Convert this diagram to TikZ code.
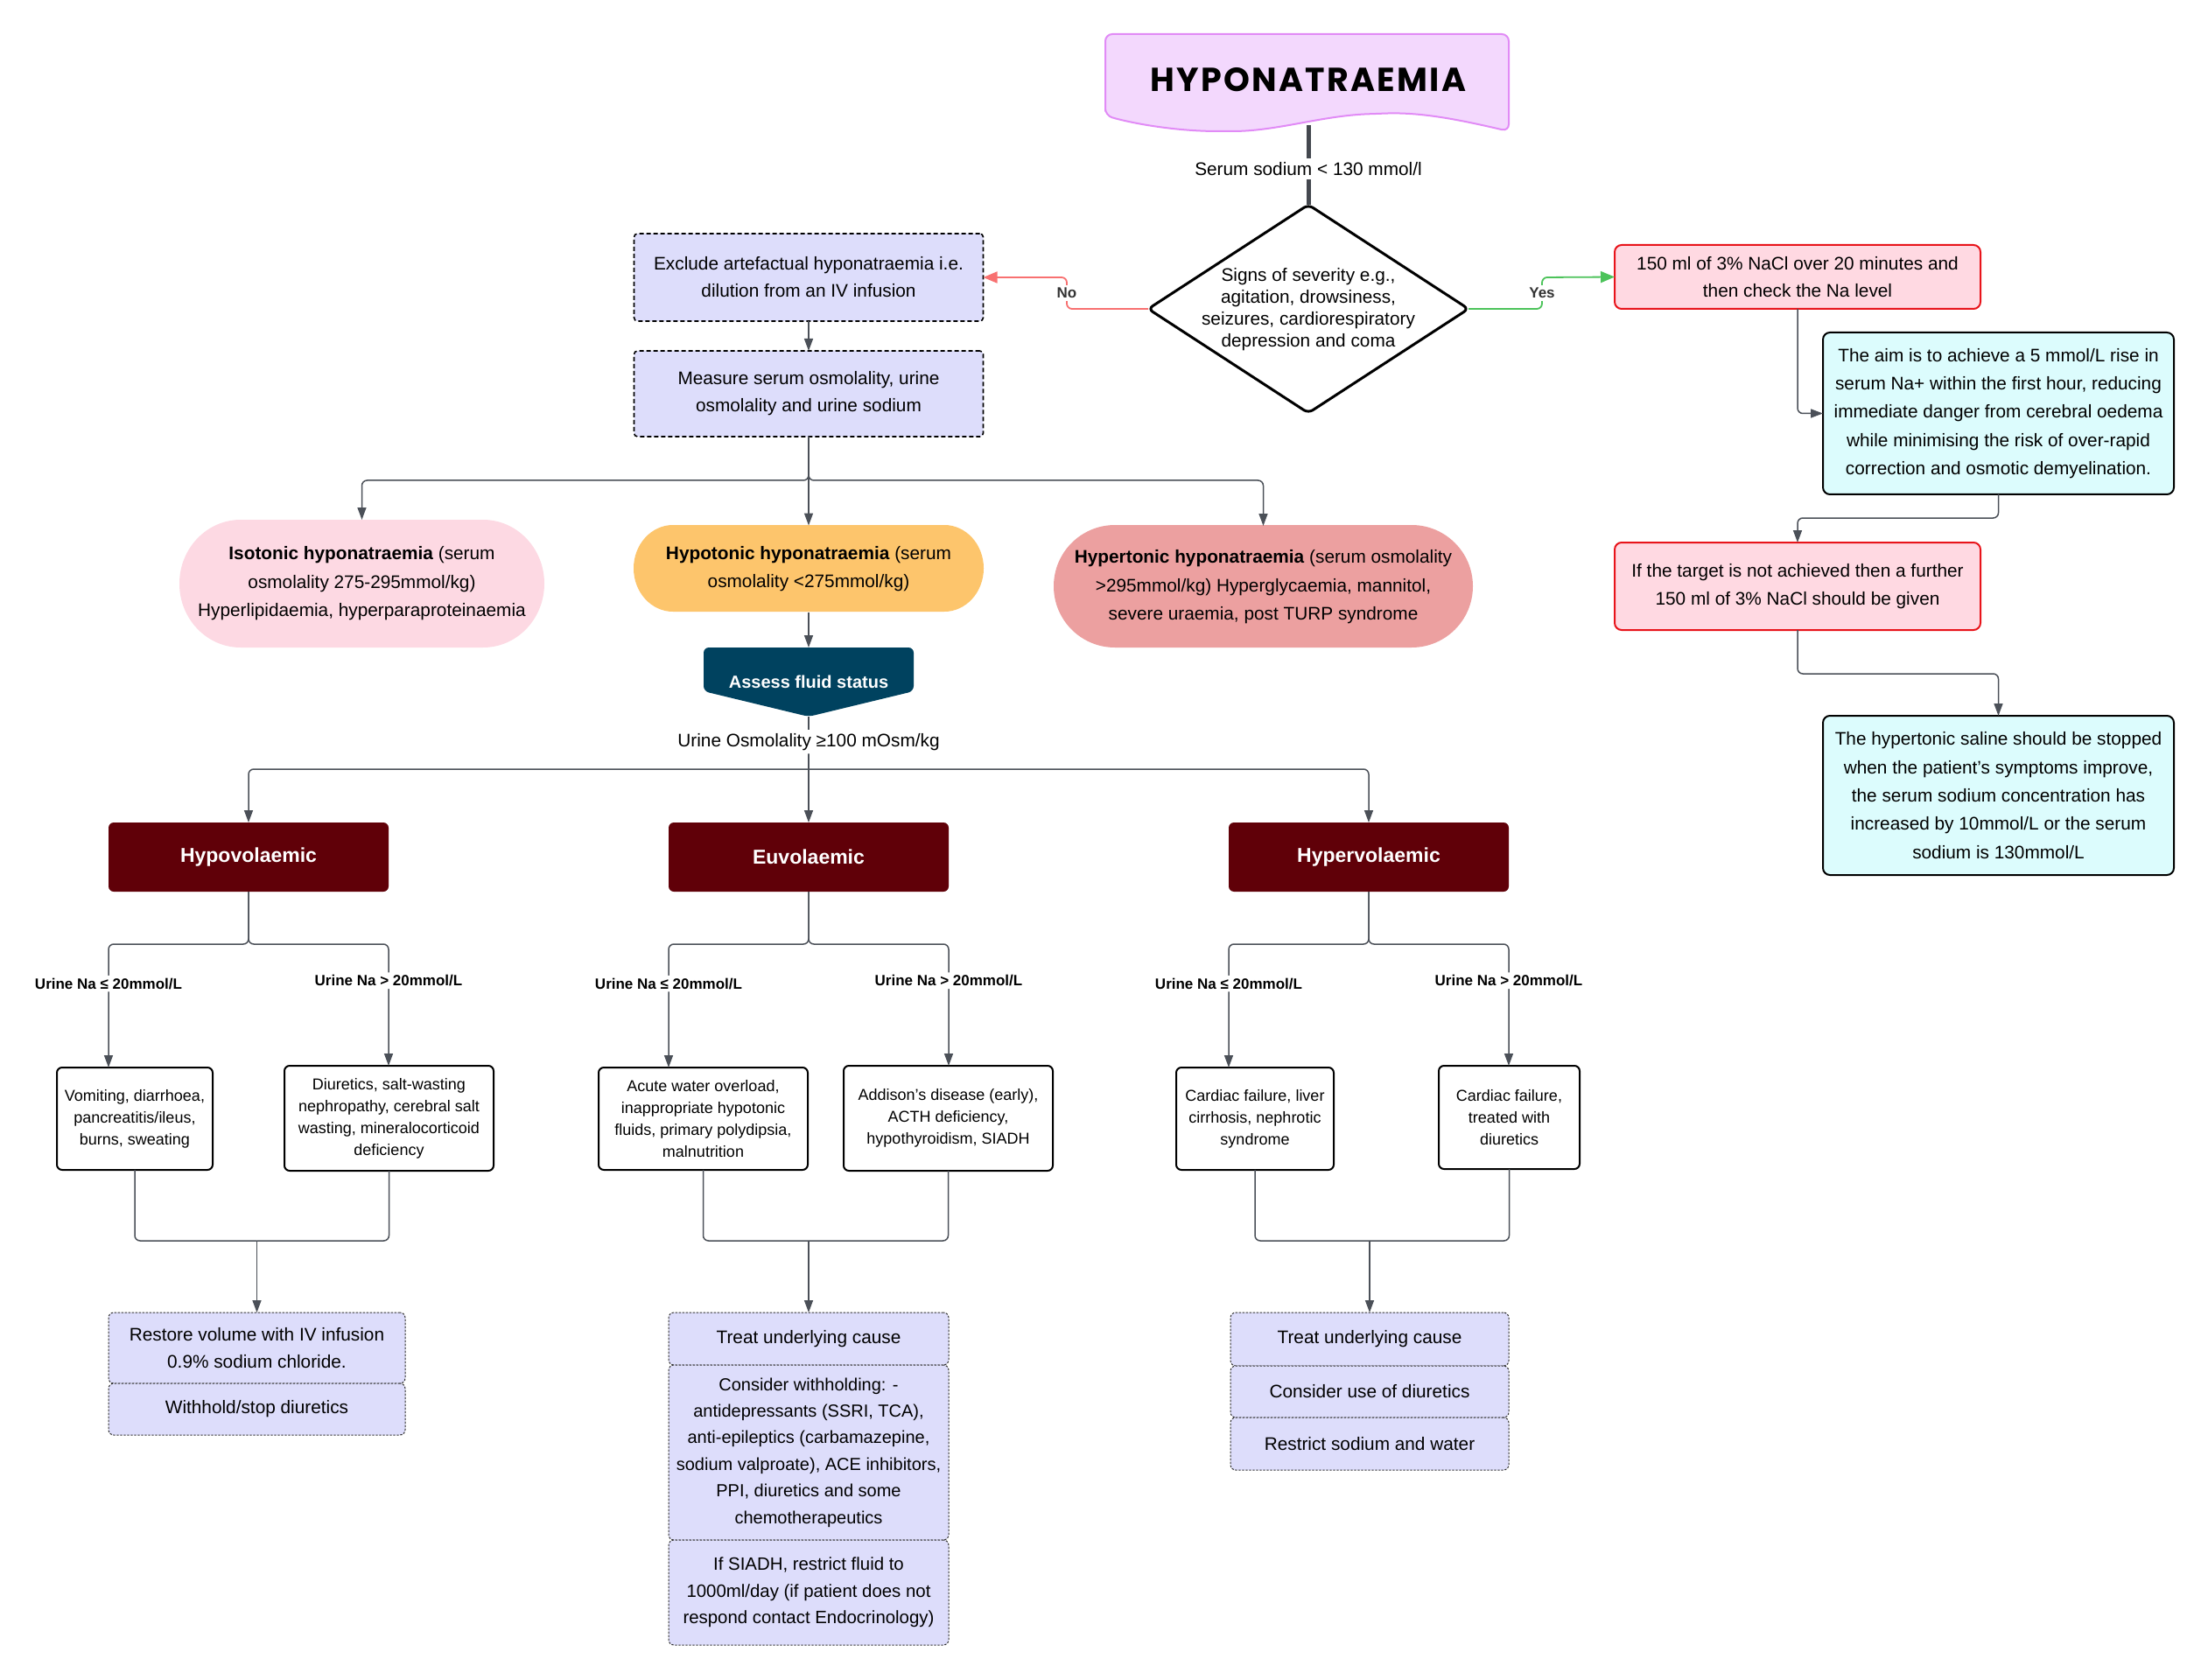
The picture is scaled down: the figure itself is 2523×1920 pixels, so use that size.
\documentclass[tikz,border=0pt]{standalone}
\usepackage{fontspec}
\setmainfont{Liberation Sans}
\newfontfamily\titlefont{Poppins}[LetterSpace=6]
\usetikzlibrary{arrows.meta,shapes.geometric}
\definecolor{lav}{HTML}{DDDDFB}
\definecolor{lncol}{HTML}{4B5058}
\definecolor{redb}{HTML}{E8141B}
\definecolor{pinkf}{HTML}{FFD9E2}
\definecolor{cyanf}{HTML}{DCFCFD}
\definecolor{maroonf}{HTML}{600008}
\definecolor{ctealf}{HTML}{00425F}
\definecolor{isof}{HTML}{FDD9E3}
\definecolor{hypof}{HTML}{FDC56C}
\definecolor{hyperf}{HTML}{ECA0A0}
\definecolor{titlef}{HTML}{F3D8FD}
\definecolor{titleb}{HTML}{E18BF6}
\definecolor{nored}{HTML}{F87171}
\definecolor{yesgreen}{HTML}{4CC35A}
\newcommand\pillfill[6]{%
  \fill[#1] (#2+#6,#3) -- (#4-#6,#3)
    arc[start angle=90,end angle=-90,x radius=#6*0.5pt,y radius={(#5-#3)*0.25pt}]
    -- (#2+#6,#5)
    arc[start angle=270,end angle=90,x radius=#6*0.5pt,y radius={(#5-#3)*0.25pt}]
    -- cycle;}
\begin{document}
\begin{tikzpicture}[x=0.5pt,y=-0.5pt,
  every node/.style={inner sep=0pt, outer sep=0pt, align=center},
  fm/.style={font=\fontsize{10.4}{15.5}\selectfont},
  fp/.style={font=\fontsize{10.4}{16.2}\selectfont},
  ln/.style={draw=lncol, line width=0.75pt, rounded corners=3pt},
  arr/.style={ln, -{Triangle[length=7pt,width=5pt]}},
  lbl/.style={fill=white, inner sep=1.5pt, font=\bfseries\fontsize{8.5}{10}\selectfont},
  dashbox/.style={draw=black, line width=0.8pt, dash pattern=on 2.5pt off 1.5pt, fill=lav, rounded corners=2pt, fm},
  treat/.style={draw=black!80, line width=0.5pt, dash pattern=on 1.2pt off 0.8pt, fill=lav, rounded corners=3pt, fm},
  child/.style={draw=black, line width=1pt, rounded corners=3pt, fill=white, font=\fontsize{9}{12.5}\selectfont},
  vol/.style={fill=maroonf, rounded corners=3pt, text=white, font=\bfseries\fontsize{11.5}{14}\selectfont},
  redbox/.style={draw=redb, line width=1pt, fill=pinkf, rounded corners=4pt, fm},
  cyanbox/.style={draw=black, line width=1pt, fill=cyanf, rounded corners=4pt, fm}
]
\useasboundingbox (0,0) rectangle (2523,1920);
\fill[white] (0,0) rectangle (2523,1920);

% ---- title banner
\filldraw[fill=titlef, draw=titleb, line width=1pt, rounded corners=4pt]
  (1263,132) -- (1263,39) -- (1724,39) -- (1724,150)
  .. controls (1660,135) and (1620,128) .. (1573,130)
  .. controls (1510,132) and (1460,150) .. (1400,150)
  .. controls (1340,150) and (1290,140) .. (1263,132) -- cycle;
\node[minimum width=230.5pt, minimum height=52pt, font=\titlefont\bfseries\fontsize{19}{19}\selectfont] (title) at (1495,91) {HYPONATRAEMIA};

% ---- diamond
\node[diamond, draw=black, line width=1.5pt, fill=white, rounded corners=3pt, minimum width=183pt, minimum height=119pt] (diamond) at (1495,353) {};
\node[font=\fontsize{10.4}{12.5}\selectfont] (dtext) at (1495,354) {Signs of severity e.g.,\\agitation, drowsiness,\\seizures, cardiorespiratory\\depression and coma};

% ---- left column top boxes
\node[dashbox, minimum width=199.5pt, minimum height=50pt] (exclude) at (924,317) {Exclude artefactual hyponatraemia i.e.\\dilution from an IV infusion};
\node[dashbox, minimum width=199.5pt, minimum height=49pt] (measure) at (924,450) {Measure serum osmolality, urine\\osmolality and urine sodium};

% ---- tonicity pills
\pillfill{isof}{205}{594}{622}{740}{70}
\pillfill{hypof}{724}{600}{1124}{699}{45}
\pillfill{hyperf}{1204}{600}{1683}{740}{70}
\node[fp, minimum width=208.5pt, minimum height=73pt] (isotonic) at (413.5,667) {\textbf{Isotonic hyponatraemia} (serum\\osmolality 275-295mmol/kg)\\Hyperlipidaemia, hyperparaproteinaemia};
\node[fp, minimum width=200pt, minimum height=49.5pt] (hypotonic) at (924,650) {\textbf{Hypotonic hyponatraemia} (serum\\osmolality <275mmol/kg)};
\node[fp, minimum width=239.5pt, minimum height=70pt] (hypertonic) at (1443.5,671) {\textbf{Hypertonic hyponatraemia} (serum osmolality\\>295mmol/kg) Hyperglycaemia, mannitol,\\severe uraemia, post TURP syndrome};

% ---- assess fluid status
\fill[ctealf, rounded corners=3pt] (804,740) -- (1044,740) -- (1044,790) -- (924,819) -- (804,790) -- cycle;
\node[minimum width=120pt, minimum height=39.5pt, text=white, font=\bfseries\fontsize{10}{12}\selectfont] (assess) at (924,779.5) {Assess fluid status};

% ---- volaemic
\node[vol, minimum width=160pt, minimum height=39.5pt] (hypovol) at (284,979.5) {Hypovolaemic};
\node[vol, minimum width=160pt, minimum height=39.5pt] (euvol) at (924,979.5) {Euvolaemic};
\node[vol, minimum width=160pt, minimum height=39.5pt] (hypervol) at (1564,979.5) {Hypervolaemic};

% ---- children
\node[child, minimum width=89pt, minimum height=58.5pt] (hypoA) at (154,1278.5) {Vomiting, diarrhoea,\\pancreatitis/ileus,\\burns, sweating};
\node[child, minimum width=119.5pt, minimum height=60pt] (hypoB) at (444.5,1278) {Diuretics, salt-wasting\\nephropathy, cerebral salt\\wasting, mineralocorticoid\\deficiency};
\node[child, minimum width=119.5pt, minimum height=58.5pt] (euA) at (803.5,1278.5) {Acute water overload,\\inappropriate hypotonic\\fluids, primary polydipsia,\\malnutrition};
\node[child, minimum width=119.5pt, minimum height=60pt] (euB) at (1083.5,1278) {Addison’s disease (early),\\ACTH deficiency,\\hypothyroidism, SIADH};
\node[child, minimum width=90pt, minimum height=58.5pt] (hyperA) at (1434,1278.5) {Cardiac failure, liver\\cirrhosis, nephrotic\\syndrome};
\node[child, minimum width=80.5pt, minimum height=59pt] (hyperB) at (1724.5,1277) {Cardiac failure,\\treated with\\diuretics};

% ---- treatments
\node[treat, minimum width=169.5pt, minimum height=40.5pt] (hypoT1) at (293.5,1540.5) {Restore volume with IV infusion\\0.9\% sodium chloride.};
\node[treat, minimum width=169.5pt, minimum height=29.5pt] (hypoT2) at (293.5,1610.5) {Withhold/stop diuretics};
\node[treat, minimum width=160pt, minimum height=30pt] (euT1) at (924,1530) {Treat underlying cause};
\node[treat, minimum width=160pt, minimum height=100pt, font=\fontsize{10}{15.2}\selectfont] (euT2) at (924,1660) {Consider withholding: -\\antidepressants (SSRI, TCA),\\anti-epileptics (carbamazepine,\\sodium valproate), ACE inhibitors,\\PPI, diuretics and some\\chemotherapeutics};
\node[treat, minimum width=160pt, minimum height=60pt, font=\fontsize{10.2}{15.3}\selectfont] (euT3) at (924,1820) {If SIADH, restrict fluid to\\1000ml/day (if patient does not\\respond contact Endocrinology)};
\node[treat, minimum width=159pt, minimum height=30.5pt] (hyT1) at (1565,1530.5) {Treat underlying cause};
\node[treat, minimum width=159pt, minimum height=29.5pt] (hyT2) at (1565,1590.5) {Consider use of diuretics};
\node[treat, minimum width=159pt, minimum height=30pt] (hyT3) at (1565,1650) {Restrict sodium and water};

% ---- right column
\node[redbox, minimum width=209pt, minimum height=36.5pt] (na150) at (2054,316.5) {150 ml of 3\% NaCl over 20 minutes and\\then check the Na level};
\node[cyanbox, minimum width=200.5pt, minimum height=92.5pt, font=\fontsize{10.4}{16.2}\selectfont] (aim) at (2283.5,472.5) {The aim is to achieve a 5 mmol/L rise in\\serum Na+ within the first hour, reducing\\immediate danger from cerebral oedema\\while minimising the risk of over-rapid\\correction and osmotic demyelination.};
\node[redbox, minimum width=209pt, minimum height=50pt, font=\fontsize{10.4}{16}\selectfont] (further) at (2054,670) {If the target is not achieved then a further\\150 ml of 3\% NaCl should be given};
\node[cyanbox, minimum width=200.5pt, minimum height=91pt, font=\fontsize{10.4}{16.2}\selectfont] (stop) at (2283.5,909) {The hypertonic saline should be stopped\\when the patient’s symptoms improve,\\the serum sodium concentration has\\increased by 10mmol/L or the serum\\sodium is 130mmol/L};

% ---- connectors
\draw[draw=lncol!90!black, line width=2.5pt] (title.south) -- node[pos=0.55, fill=white, inner sep=2pt, fm] {Serum sodium < 130 mmol/l} (diamond.north);

\draw[draw=nored, line width=0.9pt, rounded corners=3pt, -{Triangle[length=8pt,width=6.5pt]}]
  (diamond.west) -- (1219,353) -- node[fill=white, inner sep=1.5pt, text=black!80, font=\bfseries\fontsize{8.5}{10}\selectfont]{No} (1219,317) -- (exclude.east);
\draw[draw=yesgreen, line width=0.9pt, rounded corners=3pt, -{Triangle[length=8pt,width=6.5pt]}]
  (diamond.east) -- (1762,353) -- node[fill=white, inner sep=1.5pt, text=black!80, font=\bfseries\fontsize{8.5}{10}\selectfont]{Yes} (1762,317) -- (na150.west);

\draw[arr] (exclude.south) -- (measure.south |- measure.north);
\draw[arr] (measure.south) -- (hypotonic.north);
\draw[arr] (measure.south) -- (924,549) -| (isotonic.north);
\draw[arr] (measure.south) -- (924,549) -| (hypertonic.north);
\draw[arr] (hypotonic.south) -- (assess.north);

\draw[ln] (assess.south) -- node[pos=0.48, fill=white, inner sep=2pt, fm] {Urine Osmolality ≥100 mOsm/kg} (924,879);
\draw[arr] (924,879) -- (euvol.north);
\draw[arr] (924,879) -| (hypovol.north);
\draw[arr] (924,879) -| (hypervol.north);

\draw[arr] (hypovol.south) -- (284,1079) -- (124,1079) -- node[lbl, pos=0.32]{Urine Na ≤ 20mmol/L} (hypovol.south west |- hypoA.north);
\draw[arr] (hypovol.south) -- (284,1079) -- (444,1079) -- node[lbl, pos=0.3]{Urine Na > 20mmol/L} (hypovol.south east |- hypoB.north);
\draw[arr] (euvol.south) -- (924,1079) -- (764,1079) -- node[lbl, pos=0.32]{Urine Na ≤ 20mmol/L} (euvol.south west |- euA.north);
\draw[arr] (euvol.south) -- (924,1079) -- (1084,1079) -- node[lbl, pos=0.3]{Urine Na > 20mmol/L} (euvol.south east |- euB.north);
\draw[arr] (hypervol.south) -- (1564,1079) -- (1404,1079) -- node[lbl, pos=0.32]{Urine Na ≤ 20mmol/L} (hypervol.south west |- hyperA.north);
\draw[arr] (hypervol.south) -- (1564,1079) -- (1724,1079) -- node[lbl, pos=0.3]{Urine Na > 20mmol/L} (hypervol.south east |- hyperB.north);

\coordinate (mHypo) at (293.5,1418);
\coordinate (mEu) at (924,1418);
\coordinate (mHy) at (1565,1418);
\draw[ln] (hypoA.south) |- (mHypo);
\draw[ln] (hypoB.south) |- (mHypo);
\draw[arr] (mHypo) -- (hypoT1.north);
\draw[ln] (euA.south) |- (mEu);
\draw[ln] (euB.south) |- (mEu);
\draw[arr] (mEu) -- (euT1.north);
\draw[ln] (hyperA.south) |- (mHy);
\draw[ln] (hyperB.south) |- (mHy);
\draw[arr] (mHy) -- (hyT1.north);

\draw[arr] (na150.south) |- (aim.west);
\draw[arr] (aim.south) -- (2283.5,592) -| (further.north);
\draw[arr] (further.south) -- (2054,770) -| (stop.north);
\end{tikzpicture}
\end{document}
